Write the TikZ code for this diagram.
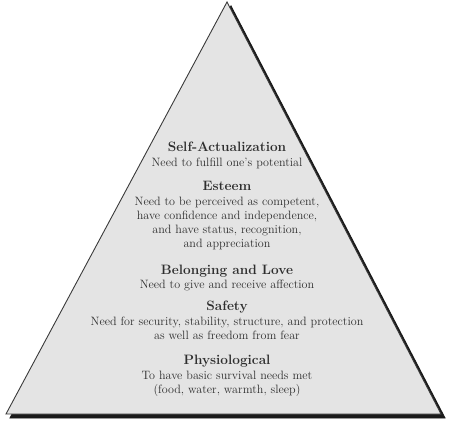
\documentclass[tikz,border=0pt]{standalone}
\usepackage{xcolor}
\usepackage{tikz}
\usetikzlibrary{positioning}
\definecolor{PyrFill}{HTML}{E4E4E4}
\definecolor{PyrEdge}{HTML}{3A3A3A}
\definecolor{PyrShade}{HTML}{1A1A1A}
\definecolor{TierText}{HTML}{2E2E2E}
\newcommand{\tiername}[1]{{\fontsize{13.6}{15}\selectfont\bfseries #1}}
\tikzset{
  pyramid/.style={fill=PyrFill,draw=PyrEdge,line width=0.9pt,line join=miter},
  shade/.style={fill=PyrShade,draw=PyrShade,line width=0.9pt},
  tier/.style={align=center,inner sep=0pt,text=TierText,
               font=\fontsize{12.1}{14}\selectfont}
}
\begin{document}
\begin{tikzpicture}[x=1pt,y=-1pt]
  \useasboundingbox (0,0) rectangle (474,425);
  % pyramid with its drop shadow
  \coordinate (apex) at (227,2);
  \coordinate (left) at (6,414);
  \coordinate (right) at (441,414);
  \fill[shade] ([shift={(4,4)}]apex) -- ([shift={(4,4)}]right) -- ([shift={(4,4)}]left) -- cycle;
  \draw[pyramid] (apex) -- (right) -- (left) -- cycle;

  \node[tier] (selfact) at (227,155) {\tiername{Self-Actualization}\\[1pt]
    Need to fulfill one's potential};
  \node[tier] (esteem) at (227,216) {\tiername{Esteem}\\[1pt]
    Need to be perceived as competent,\\
    have confidence and independence,\\
    and have status, recognition,\\
    and appreciation};
  \node[tier] (belong) at (227,278) {\tiername{Belonging and Love}\\
    Need to give and receive affection};
  \node[tier] (safety) at (227,320) {\tiername{Safety}\\[1pt]
    Need for security, stability, structure, and protection\\
    as well as freedom from fear};
  \node[tier] (physio) at (227,376) {\tiername{Physiological}\\[1pt]
    To have basic survival needs met\\
    (food, water, warmth, sleep)};
\end{tikzpicture}
\end{document}
